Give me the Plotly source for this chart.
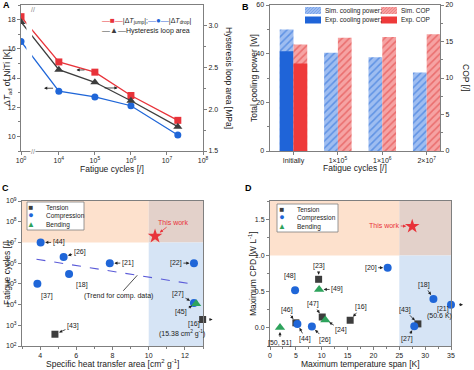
import numpy as np
import plotly.graph_objects as go

W, H = 474, 370
FONT = 'Liberation Sans, Arial, sans-serif'
GREY = '#7f7f7f'
INK = '#222222'
RED = '#e8333a'
BLUE = '#1f66d8'
DARK = '#3d3d3d'
GREEN = '#2ea35c'

# ---------------- data ----------------
# Panel A
cycles_A = [1, 1e4, 1e5, 1e6, 2e7]
dT_jump = [18.2, 15.1, 14.4, 12.8, 11.1]
dT_drop = [16.5, 13.1, 12.7, 12.1, 10.1]
hyst_area = [3.04, 2.47, 2.32, 2.10, 1.79]
A_tick_cycles = [1, 1e4, 1e5, 1e6, 1e7, 1e8]
A_tick_text = ['10<sup>0</sup>', '10<sup>4</sup>', '10<sup>5</sup>',
               '10<sup>6</sup>', '10<sup>7</sup>', '10<sup>8</sup>']

# Panel B
B_pos = [0, 1, 2, 3]
B_labels = ['Initially', '1×10<sup>5</sup>', '1×10<sup>6</sup>', '2×10<sup>7</sup>']
sim_power = [49.9, 40.4, 38.5, 32.3]
sim_cop = [14.6, 15.5, 15.6, 16.0]
exp_pos = [0]
exp_power = [41.0]
exp_cop = [12.0]

# Panel C
C_ten_x = [4.82, 12.98]
C_ten_y = [370, 1900]
C_ten_ref = ['[43]', '[16]']
C_comp_x = [4.03, 5.30, 7.85, 12.50, 5.60, 3.85, 12.50]
C_comp_y = [1e7, 2e6, 1e6, 1e6, 3e5, 1e5, 1.2e4]
C_comp_ref = ['[44]', '[26]', '[21]', '[22]', '[18]', '[37]', '[27]']
C_bend_x = [12.62]
C_bend_y = [1.1e4]
C_bend_ref = ['[45]']
C_this_x = [10.35]
C_this_y = [2e7]
C_trend_x = [3.8, 12.5]
C_trend_y = [1.55e6, 9.5e4]
C_x_thr, C_y_thr = 10, 1e7

# Panel D
D_ten_x = [9.4, 5.0, 10.1, 15.5, 28.6]
D_ten_y = [0.67, 0.07, 0.15, 0.105, 0.055]
D_ten_ref = ['[23]', '[46]', '[47]', '[16]', '[43]']
D_comp_x = [22.75, 4.85, 5.3, 8.1, 27.9, 31.6, 35.0]
D_comp_y = [0.83, 0.52, 0.055, 0.018, 0.023, 0.40, 0.32]
D_comp_ref = ['[20]', '[48]', '[44]', '[26]', '[27]', '[18]', '[21]']
D_bend_x = [9.5, 10.7, 1.93]
D_bend_y = [0.53, 0.11, 0.005]
D_bend_ref = ['[49]', '[24]', '[50, 51]']
D_this_x = [27.5]
D_this_y = [1.40]
D_x_thr, D_y_thr = 25, 1.0

# ---------------- helpers ----------------
def px(x):
    return x / W


def py(y):
    return 1 - y / H


def brk(n):
    """position on the broken fatigue-cycle axis of panel A"""
    return 0.0 if n <= 1 else np.log10(n) - 2.95


def axstyle(**kw):
    d = dict(showline=True, linecolor=GREY, linewidth=1, ticks='outside', ticklen=3,
             tickwidth=1, tickcolor=GREY, tickfont=dict(size=7, color=INK, family=FONT),
             showgrid=False, zeroline=False, automargin=False, fixedrange=True)
    d.update(kw)
    return d


def minor(dt):
    return dict(ticks='outside', ticklen=2, tickcolor=GREY, dtick=dt, showgrid=False)


fig = go.Figure()

# ---------------- Panel A ----------------
xa = [brk(c) for c in cycles_A]
fig.add_trace(go.Scatter(x=xa, y=dT_jump, mode='lines+markers', xaxis='x', yaxis='y',
                         line=dict(color=RED, width=1.3),
                         marker=dict(symbol='square', size=7, color=RED), name='|ΔT jump|'))
fig.add_trace(go.Scatter(x=xa, y=dT_drop, mode='lines+markers', xaxis='x', yaxis='y',
                         line=dict(color=BLUE, width=1.3),
                         marker=dict(symbol='circle', size=7, color=BLUE), name='|ΔT drop|'))
fig.add_trace(go.Scatter(x=xa, y=hyst_area, mode='lines+markers', xaxis='x', yaxis='y2',
                         line=dict(color=DARK, width=1.3),
                         marker=dict(symbol='triangle-up', size=8, color=DARK),
                         name='Hysteresis loop area'))

# ---------------- Panel B ----------------
BW = 0.31
SIMB_BG, SIMB_FG = '#9ebdf1', '#5f92e4'
SIMR_BG, SIMR_FG = '#f6a3a3', '#ea6d6d'
EXPB, EXPR = '#1f64d8', '#ee3a3a'
fig.add_trace(go.Bar(x=B_pos, y=sim_power, xaxis='x2', yaxis='y3', offset=-BW, width=BW,
                     marker=dict(color=SIMB_BG, line=dict(width=0),
                                 pattern=dict(shape='/', fgcolor=SIMB_FG, bgcolor=SIMB_BG,
                                              size=5, solidity=0.3, fillmode='replace')),
                     name='Sim. cooling power'))
fig.add_trace(go.Bar(x=exp_pos, y=exp_power, xaxis='x2', yaxis='y3', offset=-BW, width=BW,
                     marker=dict(color=EXPB, line=dict(width=0)), name='Exp. cooling power'))
fig.add_trace(go.Bar(x=B_pos, y=sim_cop, xaxis='x2', yaxis='y4', offset=0, width=BW,
                     marker=dict(color=SIMR_BG, line=dict(width=0),
                                 pattern=dict(shape='/', fgcolor=SIMR_FG, bgcolor=SIMR_BG,
                                              size=5, solidity=0.3, fillmode='replace')),
                     name='Sim. COP'))
fig.add_trace(go.Bar(x=exp_pos, y=exp_cop, xaxis='x2', yaxis='y4', offset=0, width=BW,
                     marker=dict(color=EXPR, line=dict(width=0)), name='Exp. COP'))

# ---------------- Panel C ----------------
fig.add_trace(go.Scatter(x=C_trend_x, y=C_trend_y, mode='lines', xaxis='x3', yaxis='y5',
                         line=dict(color='#5a5ad8', width=1.1, dash='dash'), name='Trend'))
fig.add_trace(go.Scatter(x=C_ten_x, y=C_ten_y, mode='markers', xaxis='x3', yaxis='y5',
                         cliponaxis=False,
                         marker=dict(symbol='square', size=7, color=DARK), name='Tension'))
fig.add_trace(go.Scatter(x=C_comp_x, y=C_comp_y, mode='markers', xaxis='x3', yaxis='y5',
                         cliponaxis=False,
                         marker=dict(symbol='circle', size=8, color=BLUE), name='Compression'))
fig.add_trace(go.Scatter(x=C_bend_x, y=C_bend_y, mode='markers', xaxis='x3', yaxis='y5',
                         cliponaxis=False,
                         marker=dict(symbol='triangle-up', size=9, color=GREEN), name='Bending'))
fig.add_trace(go.Scatter(x=C_this_x, y=C_this_y, mode='markers', xaxis='x3', yaxis='y5',
                         marker=dict(symbol='star', size=11, color=RED), name='This work'))

# ---------------- Panel D ----------------
fig.add_trace(go.Scatter(x=D_ten_x, y=D_ten_y, mode='markers', xaxis='x4', yaxis='y6',
                         cliponaxis=False,
                         marker=dict(symbol='square', size=7, color=DARK), name='Tension'))
fig.add_trace(go.Scatter(x=D_comp_x, y=D_comp_y, mode='markers', xaxis='x4', yaxis='y6',
                         cliponaxis=False,
                         marker=dict(symbol='circle', size=8, color=BLUE), name='Compression'))
fig.add_trace(go.Scatter(x=D_bend_x, y=D_bend_y, mode='markers', xaxis='x4', yaxis='y6',
                         cliponaxis=False,
                         marker=dict(symbol='triangle-up', size=9, color=GREEN), name='Bending'))
fig.add_trace(go.Scatter(x=D_this_x, y=D_this_y, mode='markers', xaxis='x4', yaxis='y6',
                         marker=dict(symbol='star', size=11, color=RED), name='This work'))

# ---------------- axes ----------------
A_dom_x = [px(21), px(203)]
B_dom_x = [px(269.5), px(440)]
top_dom_y = [py(151), py(5)]
C_dom_x = [px(22), px(203)]
D_dom_x = [px(270), px(451)]
bot_dom_y = [py(346), py(201)]

fig.update_layout(
    xaxis=axstyle(domain=A_dom_x, anchor='y', range=[0, 5.05], mirror=True,
                  tickvals=[brk(t) for t in A_tick_cycles], ticktext=A_tick_text),
    yaxis=axstyle(domain=top_dom_y, anchor='x', range=[9, 19], tick0=0, dtick=2,
                  minor=minor(1)),
    yaxis2=axstyle(overlaying='y', side='right', anchor='x', range=[1.5, 3.242],
                   tickvals=[1.5, 2.0, 2.5, 3.0], tickformat='.1f', minor=minor(0.25)),
    xaxis2=axstyle(domain=B_dom_x, anchor='y3', range=[-0.54, 3.3], mirror=True,
                   tickvals=B_pos, ticktext=B_labels),
    yaxis3=axstyle(domain=top_dom_y, anchor='x2', range=[0, 60], dtick=20, minor=minor(10)),
    yaxis4=axstyle(overlaying='y3', side='right', anchor='x2', range=[0, 20], dtick=5,
                   minor=minor(2.5)),
    xaxis3=axstyle(domain=C_dom_x, anchor='y5', range=[3, 13], mirror=True,
                   tickvals=[4, 6, 8, 10, 12], minor=minor(1)),
    yaxis5=axstyle(domain=bot_dom_y, anchor='x3', type='log', range=[2, 9], mirror=True,
                   tickvals=[10 ** k for k in range(2, 10)],
                   ticktext=['10<sup>%d</sup>' % k for k in range(2, 10)]),
    xaxis4=axstyle(domain=D_dom_x, anchor='y6', range=[0, 35], dtick=5, mirror=True,
                   minor=minor(2.5)),
    yaxis6=axstyle(domain=bot_dom_y, anchor='x4', range=[-0.25, 1.75], dtick=0.5,
                   tick0=0, tickformat='.1f', mirror=True, minor=minor(0.25)),
)

# ---------------- shapes ----------------
shapes = []
PEACH, OVER, SKY = '#fde1cd', '#e3d1ca', '#d6e4f5'
shapes += [
    dict(type='rect', xref='x3', yref='y5', x0=3, x1=C_x_thr, y0=C_y_thr, y1=1e9,
         fillcolor=PEACH, line=dict(width=0), layer='below'),
    dict(type='rect', xref='x3', yref='y5', x0=C_x_thr, x1=13, y0=C_y_thr, y1=1e9,
         fillcolor=OVER, line=dict(width=0), layer='below'),
    dict(type='rect', xref='x3', yref='y5', x0=C_x_thr, x1=13, y0=1e2, y1=C_y_thr,
         fillcolor=SKY, line=dict(width=0), layer='below'),
    dict(type='rect', xref='x4', yref='y6', x0=0, x1=D_x_thr, y0=D_y_thr, y1=1.75,
         fillcolor=PEACH, line=dict(width=0), layer='below'),
    dict(type='rect', xref='x4', yref='y6', x0=D_x_thr, x1=35, y0=D_y_thr, y1=1.75,
         fillcolor=OVER, line=dict(width=0), layer='below'),
    dict(type='rect', xref='x4', yref='y6', x0=D_x_thr, x1=35, y0=-0.25, y1=D_y_thr,
         fillcolor=SKY, line=dict(width=0), layer='below'),
]
# axis break mask in A
shapes.append(dict(type='rect', xref='x', yref='y', x0=0.15, x1=0.31, y0=9.2, y1=18.8,
                   fillcolor='white', line=dict(width=0), layer='above'))


def pbox(x0, y0, x1, y1, **kw):
    d = dict(type='rect', xref='paper', yref='paper', x0=px(x0), x1=px(x1),
             y0=py(y1), y1=py(y0), line=dict(width=0))
    d.update(kw)
    return d


def hatch(x0, y0, x1, y1, step=3.0, color='#5f92e4'):
    segs = []
    h = y1 - y0
    k = x0 - h
    while k < x1:
        ax0, ay0, ax1, ay1 = k, y1, k + h, y0
        if ax0 < x0:
            ay0 = y1 - (x0 - ax0)
            ax0 = x0
        if ax1 > x1:
            ay1 = y0 + (ax1 - x1)
            ax1 = x1
        if ax1 > ax0:
            segs.append('M%.4f,%.4f L%.4f,%.4f' % (px(ax0), py(ay0), px(ax1), py(ay1)))
        k += step
    return dict(type='path', xref='paper', yref='paper', path=' '.join(segs),
                line=dict(color=color, width=0.6))


# B legend swatches
SW = [(305, 7, 321, 14), (381, 7, 397, 14), (305, 16.5, 321, 23.5), (381, 16.5, 397, 23.5)]
shapes.append(pbox(*SW[0], fillcolor=SIMB_BG))
shapes.append(hatch(*SW[0], color=SIMB_FG))
shapes.append(pbox(*SW[1], fillcolor=SIMR_BG))
shapes.append(hatch(*SW[1], color=SIMR_FG))
shapes.append(pbox(*SW[2], fillcolor=EXPB))
shapes.append(pbox(*SW[3], fillcolor=EXPR))
# C, D legend boxes
shapes.append(pbox(27, 202, 84, 230, line=dict(color=GREY, width=0.8), fillcolor='white'))
shapes.append(pbox(277, 204, 338, 232, line=dict(color=GREY, width=0.8), fillcolor='white'))
fig.update_layout(shapes=shapes)

# ---------------- annotations ----------------
ann = []


def ptext(x, y, text, size=7, color=INK, xanchor='center', angle=0, bold=False, **kw):
    t = '<b>%s</b>' % text if bold else text
    d = dict(xref='paper', yref='paper', x=px(x), y=py(y), text=t, showarrow=False,
             xanchor=xanchor, yanchor='middle', textangle=angle,
             font=dict(size=size, color=color, family=FONT))
    d.update(kw)
    return d


# panel letters
ann += [ptext(6, 5, 'A', 9, '#000', bold=True), ptext(245, 7, 'B', 9, '#000', bold=True),
        ptext(5, 188, 'C', 9, '#000', bold=True), ptext(248, 188, 'D', 9, '#000', bold=True)]
# axis titles
TS = 8.5
ann += [
    ptext(7, 78, 'Δ<i>T</i><sub>ad</sub> of NiTi [K]', TS, angle=-90),
    ptext(229, 78, 'Hysteresis loop area [MPa]', TS, angle=90),
    ptext(112, 169, 'Fatigue cycles [/]', TS),
    ptext(254, 78, 'Total cooling power [W]', TS, angle=-90),
    ptext(466, 78, 'COP [/]', TS, angle=90),
    ptext(355, 168, 'Fatigue cycles [/]', TS),
    ptext(7, 273, 'Fatigue cycles [/]', TS, angle=-90),
    ptext(112, 363.5, 'Specific heat transfer area [cm<sup>2</sup> g<sup>-1</sup>]', TS),
    ptext(360, 363.5, 'Maximum temperature span [K]', TS),
    ptext(252, 273, 'Maximum CPD [W L<sup>-1</sup>]', TS, angle=-90),
]

# legend A
ann += [
    ptext(100, 20, '<span style="color:%s;font-size:8px">—■—</span>|Δ<i>T</i><sub>jump</sub>|;'
          '<span style="color:%s;font-size:8px">—●—</span>|Δ<i>T</i><sub>drop</sub>|' % (RED, BLUE),
          7, xanchor='left'),
    ptext(100, 30, '<span style="color:%s;font-size:8px">—▲—</span>Hysteresis loop area' % DARK,
          7, xanchor='left'),
]
# legend B
ann += [ptext(323, 10.5, 'Sim. cooling power;', 6.5, xanchor='left'),
        ptext(399, 10.5, 'Sim. COP', 6.5, xanchor='left'),
        ptext(323, 20, 'Exp. cooling power;', 6.5, xanchor='left'),
        ptext(399, 20, 'Exp. COP', 6.5, xanchor='left')]
# legends C & D (one multi-line text per column)
SYM = ('<span style="color:%s;font-size:8px">■</span><br>'
       '<span style="color:%s;font-size:9px">●</span><br>'
       '<span style="color:%s;font-size:8px">▲</span>') % (DARK, BLUE, GREEN)
for (sx, tx, yc) in [(31.5, 44, 216), (282, 295, 218)]:
    ann += [ptext(sx, yc, SYM, 6.5, align='center'),
            ptext(tx, yc, 'Tension<br>Compression<br>Bending', 6.5, xanchor='left',
                  align='left')]

# break marks in A
for yy in (151, 5):
    ann.append(dict(xref='x', yref='paper', x=0.33, y=py(yy), text='//', showarrow=False,
                    bgcolor='white', borderpad=0, font=dict(size=7, color=GREY, family=FONT)))


def arr(xref, yref, x, y, ax, ay, color=INK):
    return dict(xref=xref, yref=yref, x=x, y=y, ax=ax, ay=ay, text=' ', showarrow=True,
                arrowhead=2, arrowsize=0.8, arrowwidth=0.8, arrowcolor=color,
                font=dict(size=2))


ann += [arr('x', 'y', 1.54, 14.55, 10, 0), arr('x', 'y', 0.64, 13.3, 11, 0),
        arr('x', 'y2', 2.68, 2.252, -15, 0)]


def lab(xref, yref, x, y, text, ax, ay, arrow=True, head=2, color=INK, log=False,
        standoff=4.5):
    yy = float(np.log10(y)) if log else y
    if arrow:
        return dict(xref=xref, yref=yref, x=x, y=yy, text=text, showarrow=True, ax=ax, ay=ay,
                    arrowhead=head, arrowsize=0.8, arrowwidth=0.8, arrowcolor=color,
                    standoff=standoff, font=dict(size=7, color=color, family=FONT))
    return dict(xref=xref, yref=yref, x=x, y=yy, text=text, showarrow=False,
                xshift=ax, yshift=-ay, font=dict(size=7, color=color, family=FONT))


# C labels
C_off = {'[44]': (18, 0), '[26]': (16, -5), '[21]': (18, 0), '[22]': (-18, 0),
         '[18]': (13, 11), '[37]': (10, 12), '[27]': (-16, -9), '[45]': (-15, 8),
         '[43]': (18, -8)}
for xs, ys, refs in [(C_ten_x, C_ten_y, C_ten_ref), (C_comp_x, C_comp_y, C_comp_ref),
                     (C_bend_x, C_bend_y, C_bend_ref)]:
    for x, y, r in zip(xs, ys, refs):
        if r == '[16]':
            ann.append(lab('x3', 'y5', x, y, r, -9, 4, head=0, log=True, standoff=3))
            ann.append(lab('x3', 'y5', x, y, '(15.38 cm<sup>2</sup> g<sup>-1</sup>)', -21, 14,
                           arrow=False, log=True))
            a = arr('x3', 'y5', x, float(np.log10(y)), -5, 0)
            a['xshift'] = 10
            ann.append(a)
        else:
            ax_, ay_ = C_off[r]
            ann.append(lab('x3', 'y5', x, y, r, ax_, ay_, log=True))
ann.append(lab('x3', 'y5', C_this_x[0], C_this_y[0], 'This work', 18, -14, color=RED,
               log=True, standoff=6))
tx = 9.37
ty = 10 ** np.interp(tx, C_trend_x, np.log10(C_trend_y))
ann.append(lab('x3', 'y5', tx, ty, '(Trend for comp. data)', -19, 21, head=0, log=True,
               standoff=0))

# D labels
D_off = {'[23]': (0, -13), '[46]': (-9, -13), '[47]': (-9, -13), '[16]': (11, -13),
         '[43]': (-13, -14), '[20]': (-17, 0), '[44]': (8, 15), '[26]': (13, 13),
         '[27]': (-7, 13), '[18]': (-9, -14), '[49]': (18, 0), '[24]': (16, 10),
         '[50, 51]': (0, 15)}
for xs, ys, refs in [(D_ten_x, D_ten_y, D_ten_ref), (D_comp_x, D_comp_y, D_comp_ref),
                     (D_bend_x, D_bend_y, D_bend_ref)]:
    for x, y, r in zip(xs, ys, refs):
        if r == '[48]':
            ann.append(lab('x4', 'y6', x, y, r, -5, -14, arrow=False))
        elif r == '[21]':
            ann.append(lab('x4', 'y6', x, y, r, -8, 4, head=0, standoff=3))
            ann.append(lab('x4', 'y6', x, y, '(50.6 K)', -12, 11, arrow=False))
            a = arr('x4', 'y6', x, y, -6, 0)
            a['xshift'] = 12
            ann.append(a)
        else:
            ax_, ay_ = D_off[r]
            ann.append(lab('x4', 'y6', x, y, r, ax_, ay_))
ann.append(lab('x4', 'y6', D_this_x[0], D_this_y[0], 'This work', -28, -1, color=RED,
               standoff=6))

fig.update_layout(
    annotations=ann,
    width=W, height=H, margin=dict(l=0, r=0, t=0, b=0),
    paper_bgcolor='white', plot_bgcolor='white', showlegend=False,
    barmode='overlay', font=dict(family=FONT, size=7, color=INK),
)

fig.write_html('out.html', config={'displayModeBar': False},
               post_script="document.body.style.margin='0';"
                           "document.body.style.overflow='hidden';")
